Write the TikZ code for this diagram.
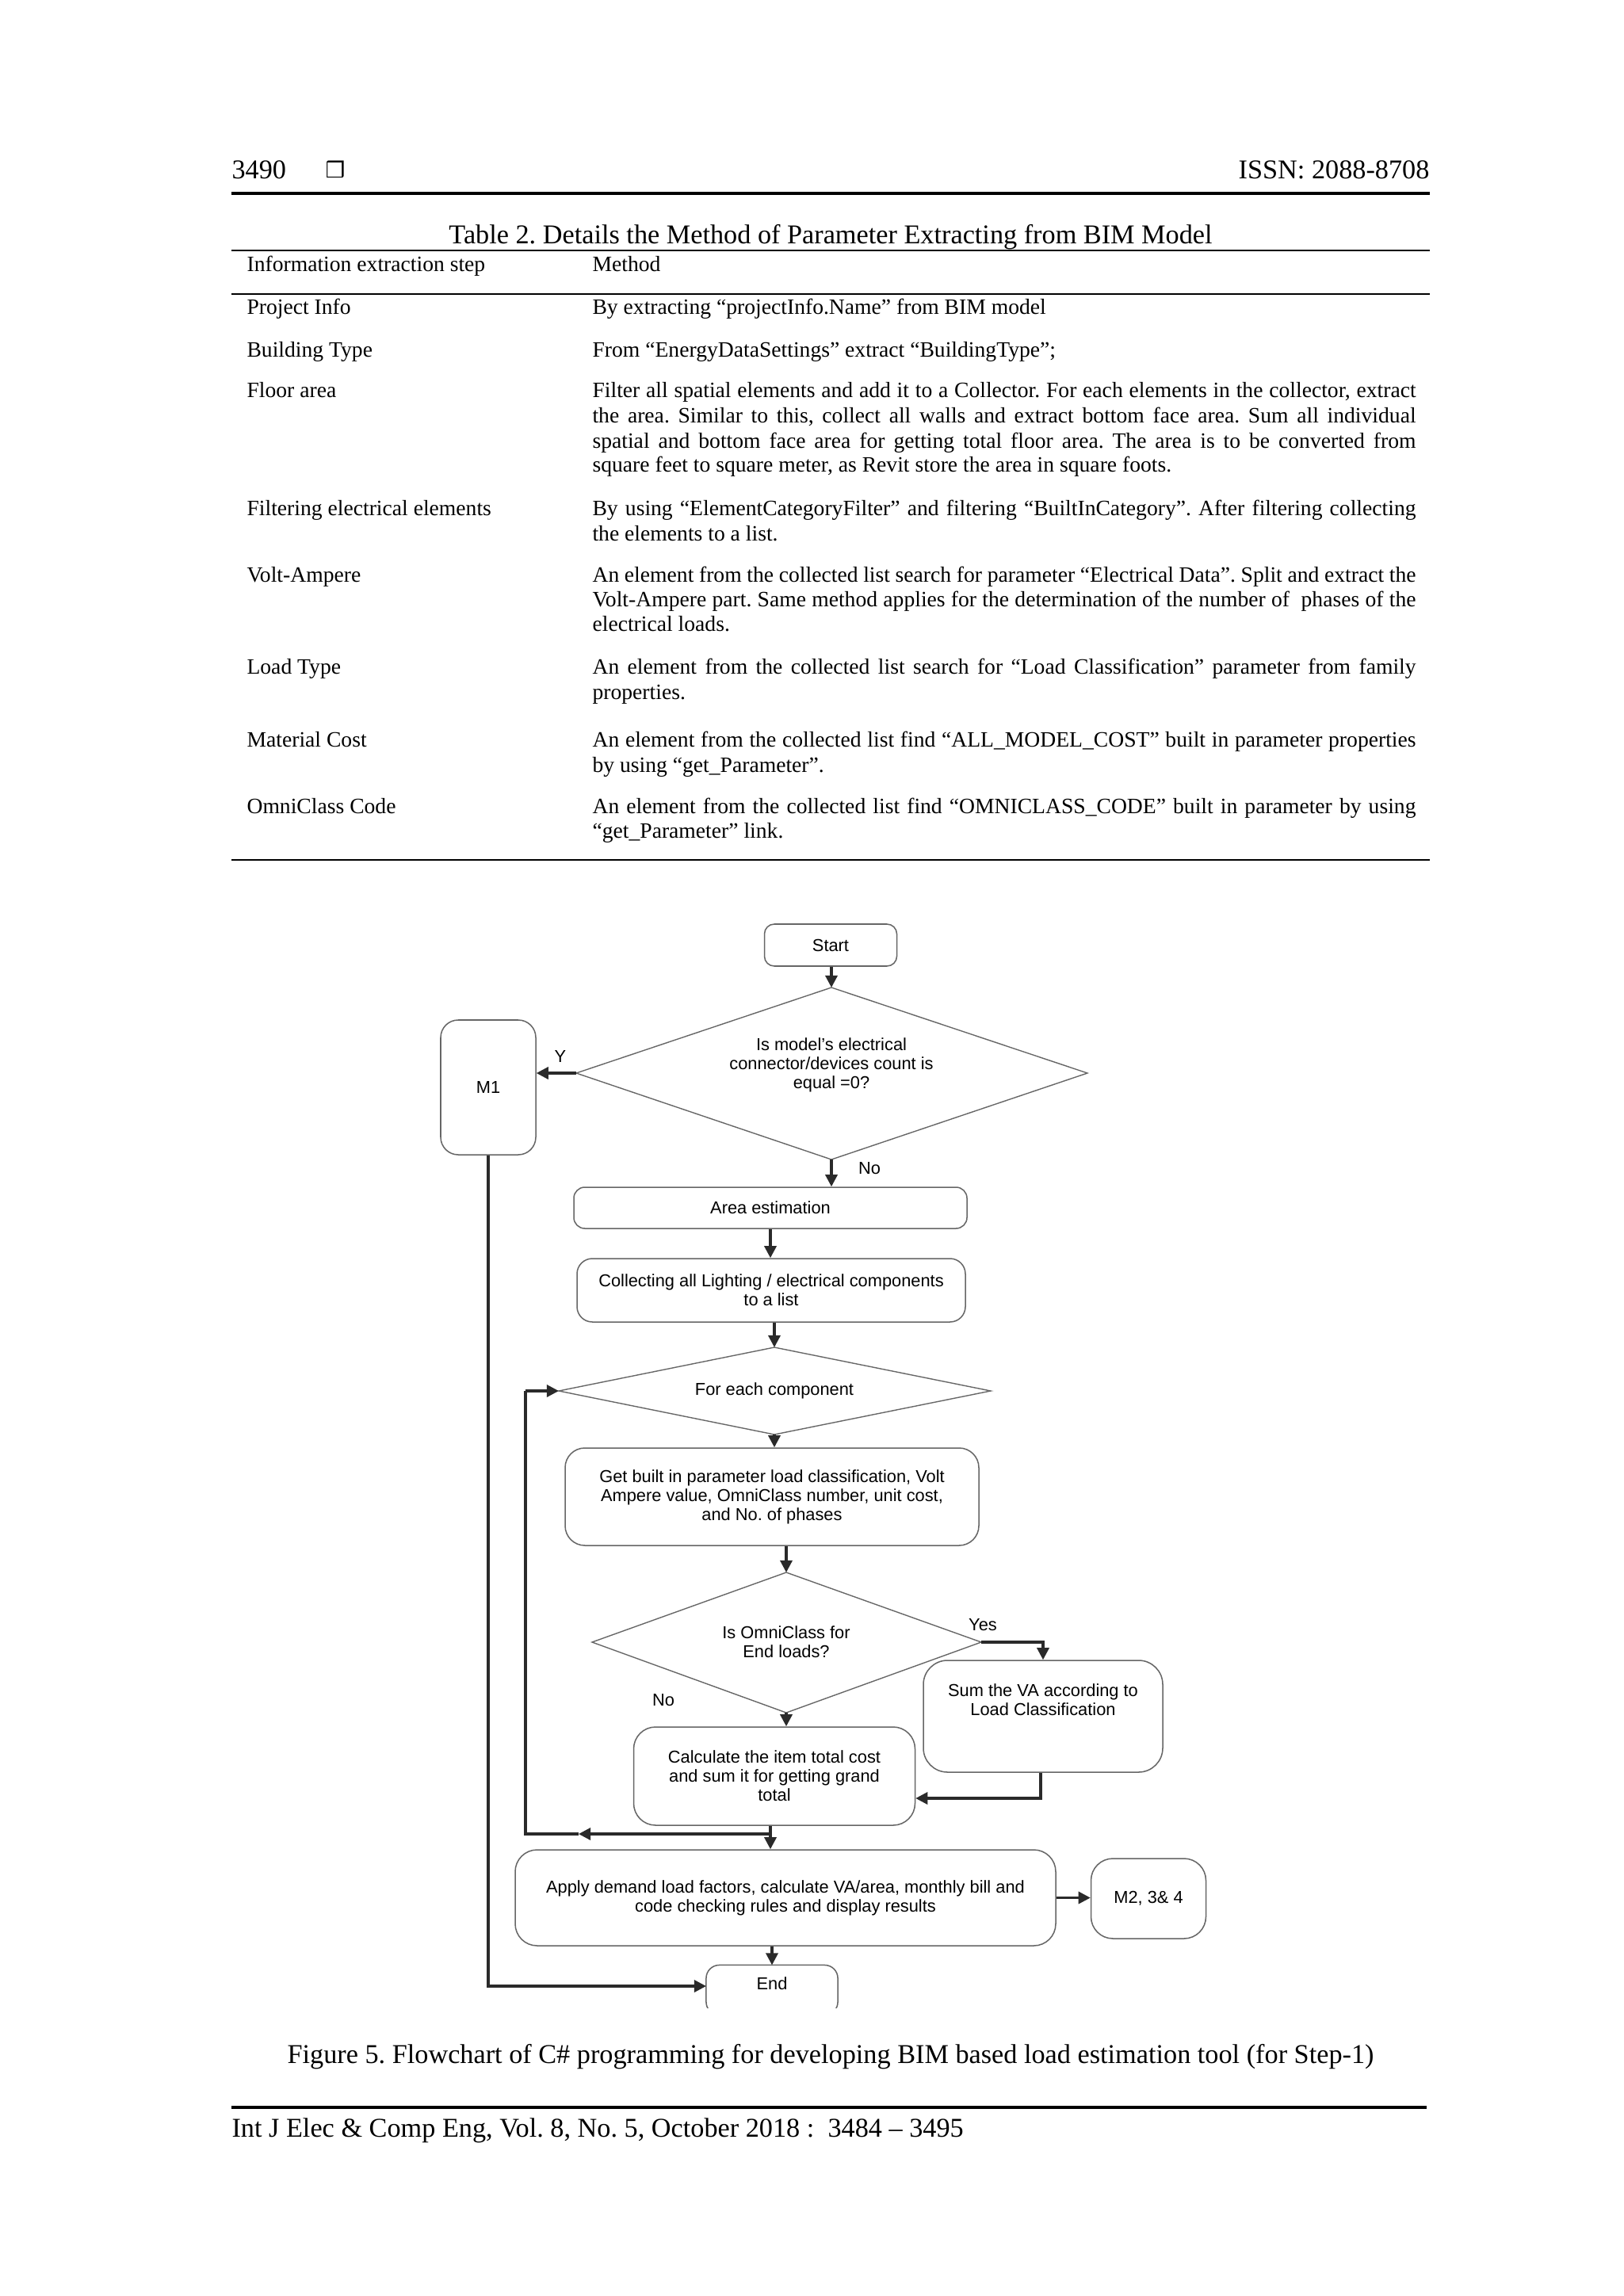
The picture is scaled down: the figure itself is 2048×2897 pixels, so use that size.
\documentclass[tikz,border=0pt]{standalone}
\usepackage{fontspec}
\setmainfont{Liberation Serif}
\newfontfamily\fcf{Liberation Sans}
\newfontfamily\djv{DejaVu Sans}
\usetikzlibrary{arrows.meta}
\newlength\tw \setlength\tw{376.1pt}
\newcommand\J[1]{\makebox[\tw][s]{#1}}
\definecolor{boxgray}{HTML}{666666}
\definecolor{linegray}{HTML}{2A2A2A}
\frenchspacing
\begin{document}
\begin{tikzpicture}[x=0.362pt,y=-0.362pt,
  tt/.style={anchor=base west, inner sep=0pt, font=\fontsize{10}{12}\selectfont},
  big/.style={inner sep=0pt, font=\fontsize{12.4}{14}\selectfont},
  ff/.style={font=\fcf\fontsize{7.9}{8.7}\selectfont, align=center, inner sep=0pt},
  fbox/.style={ff, draw=boxgray, line width=0.55pt},
  conn/.style={draw=linegray, line width=1.15pt, -{Triangle[length=5.5pt,width=5.5pt]}},
  plainline/.style={draw=linegray, line width=1.15pt},
  diaedge/.style={draw=boxgray, line width=0.5pt},
  rule/.style={line width=1pt}
]
\useasboundingbox[fill=white] (0,0) rectangle (2048,2897);

% ---------- page header ----------
\node[big, anchor=base west] (pg) at (292,226) {3490};
\node[inner sep=0pt, font=\djv\fontsize{10}{12}\selectfont] (sym) at (423,214) {❒};
\node[big, anchor=base east] (issn) at (1804,226) {ISSN: 2088-8708};
\draw[line width=1.5pt] (292,244) -- (1804,244);

% ---------- table ----------
\node[big, anchor=base] (tcap) at (1048,308) {Table 2. Details the Method of Parameter Extracting from BIM Model};
\draw[rule] (292,316) -- (1804,316);
\node[tt] (h1) at (311,343) {Information extraction step};
\node[tt] (h2) at (747,343) {Method};
\draw[rule] (292,371) -- (1804,371);

\node[tt] (p1) at (311,397) {Project Info};
\node[tt] (p2) at (747,397) {By extracting “projectInfo.Name” from BIM model};

\node[tt] (b1) at (311,451) {Building Type};
\node[tt] (b2) at (747,451) {From “EnergyDataSettings” extract “BuildingType”;};

\node[tt] (f1) at (311,502) {Floor area};
\node[tt] (f2) at (747,502) {\J{Filter all spatial elements and add it to a Collector. For each elements in the collector, extract}};
\node[tt] (f3) at (747,534) {\J{the area. Similar to this, collect all walls and extract bottom face area. Sum all individual}};
\node[tt] (f4) at (747,566) {\J{spatial and bottom face area for getting total floor area. The area is to be converted from}};
\node[tt] (f5) at (747,596) {square feet to square meter, as Revit store the area in square foots.};

\node[tt] (e1) at (311,651) {Filtering electrical elements};
\node[tt] (e2) at (747,651) {\J{By using “ElementCategoryFilter” and filtering “BuiltInCategory”. After filtering collecting}};
\node[tt] (e3) at (747,683) {the elements to a list.};

\node[tt] (v1) at (311,735) {Volt-Ampere};
\node[tt] (v2) at (747,735) {\J{An element from the collected list search for parameter “Electrical Data”. Split and extract the}};
\node[tt] (v3) at (747,766) {\J{Volt-Ampere part. Same method applies for the determination of the number of \ phases of the}};
\node[tt] (v4) at (747,797) {electrical loads.};

\node[tt] (l1) at (311,850) {Load Type};
\node[tt] (l2) at (747,850) {\J{An element from the collected list search for “Load Classification” parameter from family}};
\node[tt] (l3) at (747,882) {properties.};

\node[tt] (m1a) at (311,942) {Material Cost};
\node[tt] (m1b) at (747,942) {\J{An element from the collected list find “ALL\_MODEL\_COST” built in parameter properties}};
\node[tt] (m1c) at (747,974) {by using “get\_Parameter”.};

\node[tt] (o1) at (311,1026) {OmniClass Code};
\node[tt] (o2) at (747,1026) {\J{An element from the collected list find “OMNICLASS\_CODE” built in parameter by using}};
\node[tt] (o3) at (747,1057) {“get\_Parameter” link.};
\draw[rule] (292,1085) -- (1804,1085);

% ---------- flowchart ----------
\node[fbox, rounded corners=4.5pt, minimum width=167*0.362pt, minimum height=53*0.362pt] (start) at (1048,1192.5) {Start};

\coordinate (d1n) at (1049,1246);
\coordinate (d1e) at (1372,1354);
\coordinate (d1s) at (1049,1463);
\coordinate (d1w) at (727,1354);
\draw[diaedge] (d1n) -- (d1e) -- (d1s) -- (d1w) -- cycle;
\node[ff] (d1) at (1049,1344) {Is model’s electrical\\connector/devices count is\\equal =0?};

\node[fbox, rounded corners=8pt, minimum width=120*0.362pt, minimum height=170*0.362pt] (m1) at (616,1372) {M1};

\node[fbox, rounded corners=5pt, minimum width=496*0.362pt, minimum height=52*0.362pt] (area) at (972,1524) {Area estimation};
\node[fbox, rounded corners=7pt, minimum width=490*0.362pt, minimum height=80*0.362pt] (collect) at (973,1628) {Collecting all Lighting / electrical components\\to a list};

\coordinate (d2n) at (977,1700);
\coordinate (d2e) at (1250,1755);
\coordinate (d2s) at (977,1810);
\coordinate (d2w) at (705,1755);
\draw[diaedge] (d2n) -- (d2e) -- (d2s) -- (d2w) -- cycle;
\node[ff] (d2) at (977,1755) {For each component};

\node[fbox, rounded corners=9pt, minimum width=522*0.362pt, minimum height=123*0.362pt] (get) at (974,1888.5) {Get built in parameter load classification, Volt\\Ampere value, OmniClass number, unit cost,\\and No. of phases};

\coordinate (d3n) at (992,1984);
\coordinate (d3e) at (1238,2072);
\coordinate (d3s) at (992,2161);
\coordinate (d3w) at (747,2072);
\draw[diaedge] (d3n) -- (d3e) -- (d3s) -- (d3w) -- cycle;
\node[ff] (d3) at (992,2072) {Is OmniClass for\\End loads?};

\node[fbox, rounded corners=11pt, minimum width=302*0.362pt, minimum height=141*0.362pt] (sum) at (1316,2165.5) {};
\node[ff] (sumtxt) at (1316,2145) {Sum the VA according to\\Load Classification};

\node[fbox, rounded corners=10pt, minimum width=355*0.362pt, minimum height=124*0.362pt] (calc) at (977,2241) {Calculate the item total cost\\and sum it for getting grand\\total};

\node[fbox, rounded corners=10pt, minimum width=682*0.362pt, minimum height=121*0.362pt] (apply) at (991,2394.5) {Apply demand load factors, calculate VA/area, monthly bill and\\code checking rules and display results};

\node[fbox, rounded corners=10pt, minimum width=145*0.362pt, minimum height=101*0.362pt] (m2) at (1449,2395.5) {M2, 3\& 4};

\node[ff, minimum width=165*0.362pt, minimum height=62*0.362pt] (end) at (974,2511) {};
\begin{scope}
  \clip (880,2470) rectangle (1075,2533);
  \draw[boxgray, line width=0.55pt, rounded corners=6pt] (end.south west) rectangle (end.north east);
\end{scope}
\node[ff] (endtxt) at (974,2503) {End};

% labels
\node[ff] (ly) at (707,1333) {Y};
\node[ff] (lno1) at (1097,1474) {No};
\node[ff] (lyes) at (1240,2050) {Yes};
\node[ff] (lno2) at (837,2145) {No};

% connectors
\draw[conn] (start.south -| d1n) -- (d1n);
\draw[conn] (d1w) -- (d1w -| m1.east);
\draw[conn] (d1s) -- (d1s |- area.north);
\draw[conn] (area.south) -- (area.south |- collect.north);
\draw[conn] (d2n |- collect.south) -- (d2n);
\draw[conn] (d2s) -- (d2s |- get.north);
\draw[conn] (d3n |- get.south) -- (d3n);
\draw[conn] (d3e) -| (sum.north);
\draw[conn] (d3s) -- (d3s |- calc.north);
\coordinate (sumret) at (1313,2269);
\draw[conn] (sum.south -| sumret) -- (sumret) -- (sumret -| calc.east);
\coordinate (junc) at (972,2314);
\coordinate (midarr) at (730,2314);
\coordinate (loopb) at (663,2314);
\coordinate (loopt) at (663,1755);
\draw[plainline] (calc.south -| junc) -- (junc);
\draw[conn] (junc) -- (junc |- apply.north);
\draw[conn] (junc) -- (midarr);
\draw[plainline] (midarr) -- (loopb) -- (loopt);
\draw[conn] (loopt) -- (d2w);
\draw[conn] (apply.east) -- (apply.east -| m2.west);
\draw[conn] (end.north |- apply.south) -- (end.north);
\coordinate (m1b) at (616,2506);
\draw[conn] (m1.south) -- (m1b) -- (m1b -| end.west);

% ---------- captions / footer ----------
\node[big, anchor=base] (fcap) at (1048,2603) {Figure 5. Flowchart of C\# programming for developing BIM based load estimation tool (for Step-1)};
\draw[line width=1.2pt] (292,2659) -- (1800,2659);
\node[big, anchor=base west] (foot) at (292,2696) {Int J Elec \& Comp Eng, Vol. 8, No. 5, October 2018 : \ 3484 – 3495};
\end{tikzpicture}
\end{document}
